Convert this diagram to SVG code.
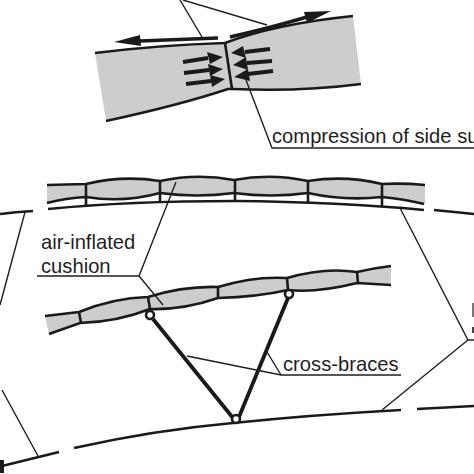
<svg xmlns="http://www.w3.org/2000/svg" width="474" height="474" viewBox="0 0 474 474">
<style>
text{font-family:"Liberation Sans",Arial,sans-serif;font-size:20.2px;fill:#1f1f1f}
.fill{fill:#cdcdcd;stroke:none}
.o{fill:none;stroke:#1a1a1a;stroke-width:2.6}
.t{fill:none;stroke:#1f1f1f;stroke-width:1.4}
.b{fill:none;stroke:#1a1a1a;stroke-width:3.8}
.a{stroke:#1a1a1a;stroke-width:4;fill:none}
.h{fill:#1a1a1a;stroke:none}
.j{fill:#fff;stroke:#1a1a1a;stroke-width:2.6}
</style>
<g id="detail">
<path class="fill" d="M95 53Q160 45 225 43Q275 24 353 16L361 84Q300 92 232 89L228 89Q180 105 106 121Z"/>
<path class="o" d="M95 53Q160 45 225 43Q275 24 353 16M106 121Q180 105 228 89L232 89Q300 92 361 84"/>
<path class="o" d="M225 43L232 89"/>
<path class="a" style="stroke-width:3.4" d="M140 41L218 38M230 37Q270 28 307 17"/>
<polygon class="h" points="114,42 140,35 141,46"/>
<polygon class="h" points="331,11 304,12 307,23"/>
<path class="a" d="M183 62L208 58M184 73L209 70M186 84L211 81"/>
<polygon class="h" points="223,57 207,52 210,64"/>
<polygon class="h" points="223,69 208,64 210,76"/>
<polygon class="h" points="225,79 210,75 212,87"/>
<path class="a" d="M270 49L245 52M272 61L247 63M273 71L248 74"/>
<polygon class="h" points="231,53 243,46 246,58"/>
<polygon class="h" points="233,65 246,57 248,70"/>
<polygon class="h" points="234,77 248,69 250,81"/>
</g>
<g id="upper-cushion">
<path class="fill" d="M47 185L86 184Q123 175 160 181Q197 173 234 180Q271 173 308 181Q345 175 382 184Q404 183 425 185V204L424 204Q404 199 382 197Q344 201 308 193Q271 198 234 193Q197 198 160 193Q123 203 86 197Q66 198 47 203Z"/>
<path class="o" d="M47 185L86 184Q123 175 160 181Q197 173 234 180Q271 173 308 181Q345 175 382 184Q404 183 425 185M47 203Q66 198 86 197Q123 203 160 193Q197 198 234 193Q271 198 308 193Q344 201 382 197Q404 199 424 204"/>
<path class="o" d="M48 209Q130 201 234 201Q340 202 424 210"/>
<path class="o" d="M86 184V206M160 181V202M235 180V201M308 181V203M382 184V206"/>
</g>
<g id="lower-cushion">
<path class="fill" d="M45 316L79 312Q113 298 148 297Q183 286 218 287Q254 276 287 278Q324 267 357 272Q374 268 391 266V285Q374 284 357 283Q317 293 288 290Q257 297 218 298Q183 310 150 309Q117 322 80 323L49 334Z"/>
<path class="o" d="M45 316L79 312Q113 298 148 297Q183 286 218 287Q254 276 287 278Q324 267 357 272Q374 268 391 266M49 334L80 323Q117 322 150 309Q183 310 218 298Q257 297 288 290Q317 293 357 283Q374 284 391 285"/>
<path class="o" d="M79 312L81 323M148 297L150 309M218 287V298M287 278L288 290M357 272L358 283"/>
</g>
<g id="structure">
<path class="o" d="M0 214Q15 212 33 211M434 210Q455 212 474 214M2 466Q30 459 59 452M74 448Q155 430 233 423Q310 415 401 410M417 409L474 406"/>
<rect class="h" x="0" y="460" width="4" height="13"/>
<rect x="472" y="303" width="2" height="14" fill="#777"/>
<rect x="472" y="327" width="2" height="6" fill="#444"/>
</g>
<g id="cross-braces">
<path class="b" d="M153 319L233 418M239 417L288 298"/>
<circle class="j" cx="150" cy="315" r="4"/>
<circle class="j" cx="289" cy="294" r="4"/>
<circle class="j" cx="236" cy="419" r="4"/>
</g>
<g id="connectors">
<path class="t" d="M180 0L202 37M183 0L267 25"/>
<path class="t" d="M246 80L272 148H474"/>
<path class="t" d="M176 182L139 276H37M139 276L163 305"/>
<path class="t" d="M25 212L0 305M2 390L38 456"/>
<path class="t" d="M400 208L468 340H474M468 340L382 410"/>
<path class="t" d="M187 356L281 375H401M267 352L281 375"/>
</g>
<g id="labels">
<text x="272" y="143">compression of side su</text>
<text x="41" y="249">air-inflated</text>
<text x="41" y="272.500">cushion</text>
<text x="283" y="371">cross-braces</text>
</g>
</svg>
